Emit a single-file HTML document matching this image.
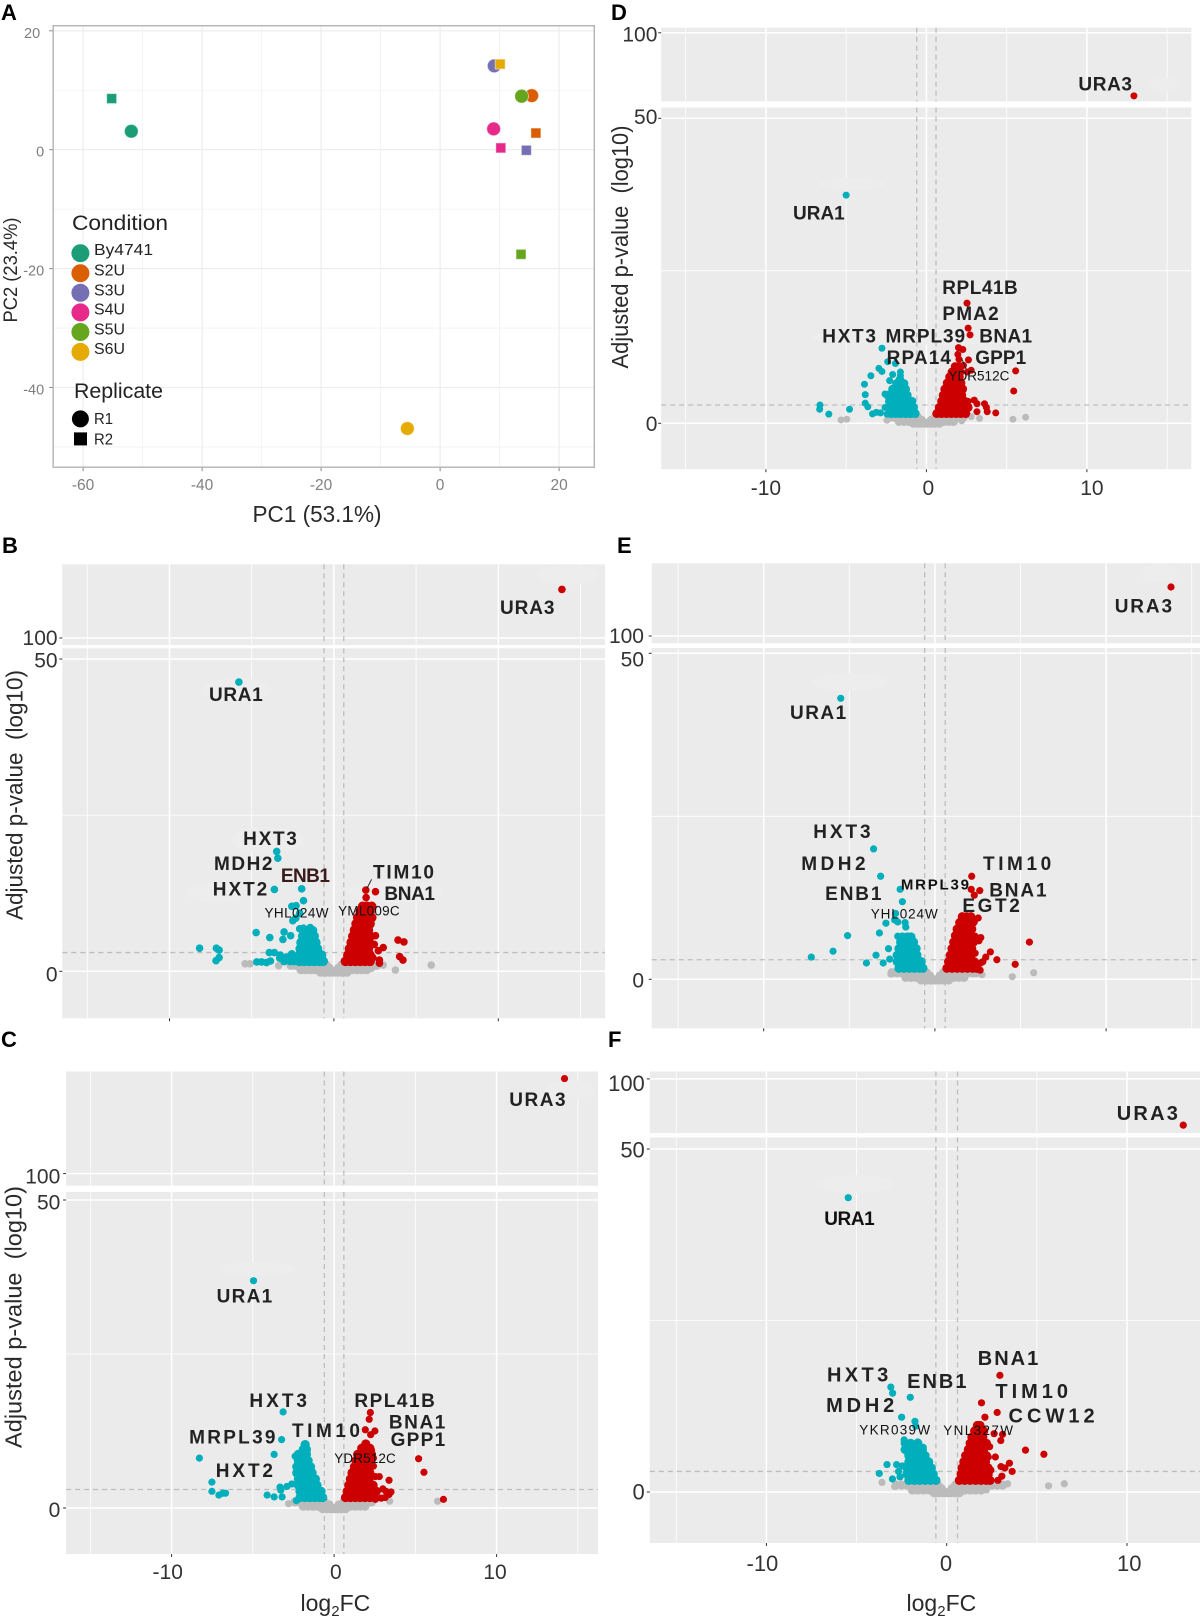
<!DOCTYPE html>
<html lang="en">
<head>
<meta charset="utf-8">
<title>PCA and volcano plots</title>
<style>
html,body{margin:0;padding:0;background:#fff}
svg{display:block;font-family:"Liberation Sans",sans-serif}
.panel-letter{font-size:22px;font-weight:700;fill:#000}
.g{font-size:19px;font-weight:700;fill:#222;text-anchor:middle}
.g2{font-size:20px}
.t{font-size:13.5px;fill:#111;text-anchor:middle}
.axis-title{font-size:23px;fill:#2a2a2a;text-anchor:middle;white-space:pre}
.pca-title{font-size:21px;fill:#222}
.pca-item{font-size:16px;fill:#222}
.sub{font-size:15px}
</style>
</head>
<body>
<svg id="figure" xmlns="http://www.w3.org/2000/svg" width="1200" height="1621" viewBox="0 0 1200 1621">
<rect width="1200" height="1621" fill="#fff"/>

<g id="panel-a"></g>
<g id="panel-b"></g>
<g id="panel-c"></g>
<g id="panel-d"></g>
<g id="panel-e"></g>
<g id="panel-f"></g>

<text class="panel-letter" x="1" y="20">A</text>
<text class="panel-letter" x="2" y="553">B</text>
<text class="panel-letter" x="1" y="1047">C</text>
<text class="panel-letter" x="611" y="20">D</text>
<text class="panel-letter" x="617" y="553">E</text>
<text class="panel-letter" x="608" y="1047">F</text>

<g>
  <text class="pca-title" x="72" y="230" textLength="96" lengthAdjust="spacingAndGlyphs">Condition</text>
  <circle cx="80.4" cy="253.2" r="9" fill="#1B9E77"/>
  <circle cx="80.4" cy="273.2" r="9" fill="#D95F02"/>
  <circle cx="80.4" cy="292.8" r="9" fill="#7570B3"/>
  <circle cx="80.4" cy="312.4" r="9" fill="#E7298A"/>
  <circle cx="80.4" cy="332" r="9" fill="#66A61E"/>
  <circle cx="80.4" cy="351.9" r="9" fill="#E6AB02"/>
  <text class="pca-item" x="94" y="255" textLength="59" lengthAdjust="spacingAndGlyphs">By4741</text>
  <text class="pca-item" x="94" y="275.5" textLength="31" lengthAdjust="spacingAndGlyphs">S2U</text>
  <text class="pca-item" x="94" y="295.5" textLength="31" lengthAdjust="spacingAndGlyphs">S3U</text>
  <text class="pca-item" x="94" y="314.5" textLength="31" lengthAdjust="spacingAndGlyphs">S4U</text>
  <text class="pca-item" x="94" y="334.5" textLength="31" lengthAdjust="spacingAndGlyphs">S5U</text>
  <text class="pca-item" x="94" y="354" textLength="31" lengthAdjust="spacingAndGlyphs">S6U</text>
  <text class="pca-title" x="74" y="398" textLength="89" lengthAdjust="spacingAndGlyphs">Replicate</text>
  <circle cx="80.4" cy="418.9" r="8.5" fill="#000"/>
  <rect x="74" y="432.4" width="13" height="13" fill="#000"/>
  <text class="pca-item" x="94" y="424" textLength="19" lengthAdjust="spacingAndGlyphs">R1</text>
  <text class="pca-item" x="94" y="444.5" textLength="19" lengthAdjust="spacingAndGlyphs">R2</text>
</g>
<text class="axis-title" x="317" y="522" textLength="129" lengthAdjust="spacingAndGlyphs">PC1 (53.1%)</text>
<text class="axis-title" style="font-size:19px" transform="rotate(-90 17 270)" x="17" y="270" textLength="105" lengthAdjust="spacingAndGlyphs">PC2 (23.4%)</text>

<text class="axis-title" transform="rotate(-90 22.5 795)" x="22.5" y="795" textLength="250" lengthAdjust="spacingAndGlyphs">Adjusted p-value  (log10)</text>
<text class="axis-title" transform="rotate(-90 21.5 1317)" x="21.5" y="1317" textLength="262" lengthAdjust="spacingAndGlyphs">Adjusted p-value  (log10)</text>
<text class="axis-title" transform="rotate(-90 628 247)" x="628" y="247" textLength="243" lengthAdjust="spacingAndGlyphs">Adjusted p-value  (log10)</text>

<text class="axis-title" x="335.4" y="1611">log<tspan class="sub" dy="5">2</tspan><tspan dy="-5">FC</tspan></text>
<text class="axis-title" x="941.4" y="1611">log<tspan class="sub" dy="5">2</tspan><tspan dy="-5">FC</tspan></text>

<g id="labels-top">
  <line x1="371.6" y1="879.3" x2="367" y2="888.3" stroke="#222" stroke-width="1"/>
  <line x1="961.7" y1="358.4" x2="966.2" y2="369.2" stroke="#222" stroke-width="1"/>

  <text class="g" x="527.2" y="613.8" textLength="54.5">URA3</text>
  <text class="g" x="235.8" y="701.2" textLength="53.7">URA1</text>
  <text class="g" x="270" y="845.2" textLength="53.7">HXT3</text>
  <text class="g" x="243.2" y="869.8" textLength="58.4">MDH2</text>
  <text class="g" x="305.4" y="881.8" textLength="49" style="fill:#3b1a1a">ENB1</text>
  <text class="g" x="403.5" y="878.5" textLength="61">TIM10</text>
  <text class="g" x="409.7" y="899.8" textLength="50.6">BNA1</text>
  <text class="g" x="240" y="895.5" textLength="54.5">HXT2</text>
  <text class="t" x="296.5" y="917.3" textLength="64">YHL024W</text>
  <text class="t" x="368.9" y="915.3" textLength="61.5">YML009C</text>

  <text class="g" x="537.4" y="1105.9" textLength="56.4">URA3</text>
  <text class="g" x="244.4" y="1302.6" textLength="55.6">URA1</text>
  <text class="g" x="278.2" y="1407" textLength="57.6">HXT3</text>
  <text class="g" x="394.6" y="1407" textLength="80.5">RPL41B</text>
  <text class="g" x="417.1" y="1428.5" textLength="56.4">BNA1</text>
  <text class="g" x="232.3" y="1443.6" textLength="86.4">MRPL39</text>
  <text class="g" x="326" y="1437.2" textLength="68">TIM10</text>
  <text class="g" x="417.9" y="1446.2" textLength="54.5">GPP1</text>
  <text class="t" x="365" y="1462.8" textLength="61.5">YDR512C</text>
  <text class="g" x="244.4" y="1477.1" textLength="57.2">HXT2</text>

  <text class="g" x="1105.2" y="90.3" textLength="53.6">URA3</text>
  <text class="g" x="818.9" y="219.5" textLength="51.7">URA1</text>
  <text class="g" x="980" y="294.2" textLength="75.4">RPL41B</text>
  <text class="g" x="970.5" y="320.2" textLength="56.3">PMA2</text>
  <text class="g" x="849.1" y="342.5" textLength="53.6">HXT3</text>
  <text class="g" x="925.3" y="342.5" textLength="79.6">MRPL39</text>
  <text class="g" x="1005.7" y="342.5" textLength="52.8">BNA1</text>
  <text class="g" x="918.8" y="363.8" textLength="64.3">RPA14</text>
  <text class="g" x="1000.7" y="363.8" textLength="50.9">GPP1</text>
  <text class="t" x="978.9" y="380.3" textLength="61">YDR512C</text>

  <text class="g" x="1143.4" y="612.5" textLength="57.4">URA3</text>
  <text class="g" x="818.1" y="719.2" textLength="56.3">URA1</text>
  <text class="g" x="841.9" y="838.2" textLength="57.4">HXT3</text>
  <text class="g" x="833.4" y="869.8" textLength="64.3">MDH2</text>
  <text class="g" x="1017.1" y="869.8" textLength="68.1">TIM10</text>
  <text class="t" style="font-size:15px;font-weight:700" x="934.9" y="889.5" textLength="68.1">MRPL39</text>
  <text class="g" x="1017.9" y="896.5" textLength="57.4">BNA1</text>
  <text class="g" x="853.3" y="899.8" textLength="56.3">ENB1</text>
  <text class="g" x="991.1" y="912.2" textLength="57.4">EGT2</text>
  <text class="t" x="904.2" y="918.3" textLength="67">YHL024W</text>

  <text class="g g2" x="1147.3" y="1120" textLength="61.2">URA3</text>
  <text class="g" x="849.5" y="1225.1" textLength="50.5" style="fill:#111">URA1</text>
  <text class="g g2" x="1008" y="1364.9" textLength="60.5">BNA1</text>
  <text class="g g2" x="857.6" y="1381.6" textLength="61.2">HXT3</text>
  <text class="g g2" x="936.8" y="1388.2" textLength="59.3">ENB1</text>
  <text class="g g2" x="1031.7" y="1398.2" textLength="72.7">TIM10</text>
  <text class="g g2" x="860.2" y="1412" textLength="68.1">MDH2</text>
  <text class="g g2" x="1051.6" y="1422.3" textLength="86.1">CCW12</text>
  <text class="t" x="894.7" y="1434.4" textLength="70.8">YKR039W</text>
  <text class="t" x="978.1" y="1434.8" textLength="69.7">YNL327W</text>
</g>
</svg>

<script>
/* ---------- PCA data ---------- */
const pcaConditions = ["By4741","S2U","S3U","S4U","S5U","S6U"];
const pcaPC1R1 = [-51.9,15.4,9.1,9.0,13.7,-5.5];
const pcaPC2R1 = [3.1,9.1,14.1,3.5,9.0,-46.9];
const pcaPC1R2 = [-55.2,16.1,14.5,10.2,13.6,10.1];
const pcaPC2R2 = [8.6,2.8,-0.1,0.3,-17.6,14.4];
const pcaXTicks = [-60,-40,-20,0,20];
const pcaYTicks = [20,0,-20,-40];
const pcaXMinor = [-50,-30,-10,10];
const pcaYMinor = [10,-10,-30,-50];

/* ---------- Volcano shared ticks ---------- */
const xMajorTicks = [-10,0,10];
const xMinorTicks = [-15,-5,5,15];
const yLowerTicks = [0,50];
const yLowerMinor = [25];
const yUpperTicks = [100];
const fcCutoffs = [-0.6,0.6];
const padjCutoff = 3;

/* ---------- Panel B: outliers are [log2FC,-log10 p]; clouds are rows [-log10 p, log2FC...] ---------- */
const bUra3 = [13.87,140.5];
const bBlueOutliers = [[-5.78,46.3],[-3.48,19.2],[-3.41,18.1],[-3.62,13.1],[-1.96,13.2],[-1.85,11.3],[-2.56,10.4],[-2.3,10.5],[-2.08,9.3],[-2.32,8.5],[-2.5,8.1],[-2.08,6.8],[-1.85,6.9],[-1.44,7.0],[-3.03,6.3],[-4.73,6.2],[-3.9,5.4],[-3.1,5.1],[-2.63,5.7],[-8.17,3.7],[-7.15,3.7],[-6.98,3.4],[-6.98,2.2],[-7.17,1.7],[-3.93,3.0],[-3.62,3.0],[-3.27,2.6],[-2.9,2.3],[-2.56,2.8],[-4.69,1.5],[-4.4,1.5],[-4.1,1.4],[-3.86,1.65],[-3.03,1.55],[-2.67,1.55],[-2.44,1.55],[-3.3,2.1],[-2.5,2.1]];
const bBlueCloud = [[1.6,-2.1,-1.8,-1.5,-1.2,-.9,-.65],[2.6,-2.1,-1.8,-1.5,-1.2,-.95,-.75],[3.6,-2.05,-1.75,-1.5,-1.25,-1.0],[4.6,-2.0,-1.75,-1.5,-1.3,-1.1],[5.6,-1.9,-1.65,-1.4,-1.2],[6.5,-1.75,-1.5,-1.3]];
const bRedOutliers = [[1.94,13.0],[2.53,12.75],[1.96,11.8],[2.53,5.7],[2.46,4.3],[3.0,3.8],[2.7,3.3],[3.9,5.0],[4.26,4.7],[4.0,2.35],[4.2,1.8],[2.77,1.8],[2.77,1.3],[2.37,2.2]];
const bRedCloud = [[1.6,.7,1.0,1.3,1.6,1.9,2.2],[2.6,.85,1.15,1.45,1.75,2.05,2.2],[3.6,.95,1.25,1.55,1.85,2.1],[4.6,1.05,1.35,1.65,1.95,2.15],[5.6,1.15,1.45,1.75,2.05,2.2],[6.6,1.25,1.55,1.85,2.1],[7.6,1.35,1.65,1.95,2.2],[8.6,1.45,1.75,2.05,2.3],[9.6,1.6,1.9,2.2],[10.4,1.75,2.0,2.3]];
const bGrayOutliers = [[-5.4,1.2],[-5.1,1.2],[-3.36,.9],[3.74,.2],[5.92,1.0],[3.0,1.0],[2.3,.5],[-1.85,.2]];
const bGrayCloud = [[-.1,-.8,-.5,-.25,0,.25,.5,.8],[.3,-2.0,-1.7,-1.4,-1.1,1.1,1.4,1.7,2.0],[.5,-.3,.3],[1,-2.6,-2.3,-2.0,-1.7,-1.4,-1.1,-.8,-.5,.5,.8,1.1,1.4,1.7,2.0,2.3,2.6]];

/* ---------- Panel C ---------- */
const cUra3 = [14.18,175];
const cBlueOutliers = [[-4.96,36.9],[-3.14,15.6],[-3.23,11.1],[-3.69,8.7],[-8.29,8.1],[-7.52,4.2],[-7.52,2.7],[-7.09,2.1],[-6.85,2.4],[-6.68,2.4],[-4.12,2.1],[-3.69,1.8],[-3.2,1.8],[-3.33,3.4],[-2.9,3.5],[-2.6,3.9],[-2.32,1.2],[-3.28,2.9],[-2.4,8.4],[-2.3,6.5]];
const cBlueCloud = [[1.7,-2.1,-1.8,-1.5,-1.2,-.9,-.7],[2.7,-2.1,-1.8,-1.5,-1.2,-.95,-.8],[3.7,-2.2,-1.9,-1.6,-1.3,-1.05],[4.7,-2.2,-1.9,-1.6,-1.3,-1.15],[5.7,-2.3,-1.95,-1.65,-1.35],[6.7,-2.3,-2.0,-1.7,-1.45],[7.7,-2.2,-1.9,-1.6],[8.7,-2.2,-1.9,-1.7],[9.5,-1.9,-1.7],[10.3,-1.78]];
const cRedOutliers = [[2.23,15.5],[2.16,14.4],[1.92,12.7],[2.51,12.5],[2.25,11.9],[5.2,8.0],[5.53,5.8],[6.73,1.4],[2.42,6.8],[2.54,5.1],[3.38,4.5],[2.78,5.1],[3.0,3.1],[3.5,2.6],[3.14,1.7],[3.38,2.2],[2.42,8.1],[2.3,9.4],[2.54,1.4],[2.9,1.6],[3.2,2.7]];
const cRedCloud = [[1.7,.7,1.0,1.3,1.6,1.9,2.2,2.5],[2.7,.8,1.1,1.4,1.7,2.0,2.3,2.6],[3.7,.9,1.2,1.5,1.8,2.1,2.4],[4.7,1.0,1.3,1.6,1.9,2.15],[5.7,1.1,1.4,1.7,2.0,2.2],[6.7,1.25,1.55,1.85,2.15],[7.7,1.35,1.65,1.95,2.2],[8.7,1.45,1.75,2.05,2.3],[9.7,1.7,1.95,2.2],[10.4,1.95]];
const cGrayOutliers = [[6.37,1.1],[3.42,1.1],[-2.8,.7]];
const cGrayCloud = [[-.1,-.7,-.45,-.2,0,.2,.45,.7],[.3,-1.9,-1.6,-1.3,-1.0,1.0,1.3,1.6,1.9],[.5,-.3,.3],[1,-2.4,-2.1,-1.8,-1.5,-1.2,-.9,-.6,.6,.9,1.2,1.5,1.8,2.1,2.3]];

/* ---------- Panel D ---------- */
const dUra3 = [12.93,62];
const dBlueOutliers = [[-5.0,37.4],[-2.77,12.3],[-2.41,10.1],[-2.96,9.0],[-2.77,8.5],[-3.46,7.8],[-1.93,9.8],[-2.1,8.0],[-1.62,8.4],[-1.62,7.8],[-3.86,6.4],[-2.29,7.0],[-3.81,4.7],[-2.58,4.8],[-3.81,3.3],[-3.65,2.7],[-6.63,3.0],[-6.65,2.3],[-6.08,1.5],[-4.79,2.3],[-3.36,1.55],[-3.12,1.8],[-2.86,1.7],[-2.58,2.6],[-2.45,1.5],[-2.33,3.2],[-2.21,3.7]];
const dBlueCloud = [[1.6,-2.2,-1.9,-1.6,-1.3,-1.0,-.7],[2.6,-2.3,-2.0,-1.7,-1.4,-1.1,-.8],[3.6,-2.3,-2.0,-1.7,-1.4,-1.1,-.9],[4.6,-2.4,-2.1,-1.8,-1.5,-1.2],[5.6,-2.1,-1.8,-1.5,-1.3],[6.5,-1.85,-1.6,-1.4],[7.1,-1.65]];
const dRedOutliers = [[2.53,19.7],[2.6,15.6],[2.72,14.5],[2.0,12.4],[2.27,12.1],[1.96,11.3],[2.03,10.5],[2.62,10.4],[2.79,8.7],[5.56,8.6],[5.44,5.3],[2.31,9.5],[2.55,8.4],[2.98,3.8],[2.6,3.6],[3.15,3.2],[3.62,3.2],[3.74,2.6],[3.79,1.9],[4.32,1.7],[3.15,1.9],[2.55,2.3],[2.31,5.7]];
const dRedCloud = [[1.6,.65,.95,1.25,1.55,1.85,2.15,2.45],[2.6,.8,1.1,1.4,1.7,2.0,2.3,2.6],[3.6,.95,1.25,1.55,1.85,2.15,2.4],[4.6,1.05,1.35,1.65,1.95,2.2],[5.6,1.15,1.45,1.75,2.05,2.25],[6.6,1.3,1.6,1.9,2.15],[7.6,1.45,1.75,2.05],[8.4,1.6,1.85,2.1],[9.3,1.8,2.05]];
const dGrayOutliers = [[-5.32,.55],[-4.96,.67],[-2.46,.5],[3.31,.8],[2.79,1.1],[5.39,.67],[6.18,1.0],[2.2,.4]];
const dGrayCloud = [[0,-.8,-.5,-.25,0,.25,.5,.8],[.3,-1.7,-1.4,-1.1,1.1,1.4,1.7],[.5,-.3,.3],[1,-2.3,-2.0,-1.7,-1.4,-1.1,-.8,-.55,.55,.8,1.1,1.4,1.7,2.0,2.3]];

/* ---------- Panel E ---------- */
const eUra3 = [13.79,140];
const eBlueOutliers = [[-5.5,43.1],[-3.58,20.0],[-3.17,15.8],[-2.03,13.8],[-1.9,11.9],[-2.3,10.1],[-2.35,9.1],[-2.86,8.6],[-2.17,8.8],[-1.74,8.7],[-1.7,8.0],[-5.1,6.7],[-3.24,7.1],[-5.95,4.3],[-7.22,3.4],[-2.71,4.7],[-3.44,3.7],[-4.0,2.5],[-3.02,2.5],[-2.64,3.1],[-2.17,6.6],[-1.45,6.5]];
const eBlueCloud = [[1.7,-2.1,-1.8,-1.5,-1.2,-.9,-.7],[2.7,-2.2,-1.9,-1.6,-1.3,-1.0,-.8],[3.7,-2.2,-1.9,-1.6,-1.3,-1.05],[4.7,-2.1,-1.8,-1.5,-1.25,-1.1],[5.7,-2.0,-1.7,-1.45,-1.25],[6.5,-1.9,-1.6,-1.4]];
const eRedOutliers = [[2.15,15.8],[2.12,13.8],[2.62,13.6],[2.3,12.9],[5.52,5.7],[4.69,2.3],[3.62,3.0],[3.24,4.2],[2.97,3.4],[2.8,2.7],[2.53,9.4],[2.3,8.8],[2.68,6.4],[2.57,5.9],[2.35,4.0],[2.64,1.4],[2.68,2.5],[2.35,6.6]];
const eRedCloud = [[1.7,.7,1.0,1.3,1.6,1.9,2.2,2.45],[2.7,.8,1.1,1.4,1.7,2.0,2.3],[3.7,.9,1.2,1.5,1.8,2.1],[4.7,1.0,1.3,1.6,1.9,2.15],[5.7,1.1,1.4,1.7,2.0,2.25],[6.7,1.2,1.5,1.8,2.1],[7.7,1.3,1.6,1.9,2.15],[8.7,1.45,1.7,2.0,2.2],[9.6,1.6,1.85,2.1]];
const eGrayOutliers = [[4.52,.4],[5.77,1.0],[2.75,.7],[-2.57,.8]];
const eGrayCloud = [[-.1,-.8,-.5,-.25,0,.25,.5,.8],[.3,-1.7,-1.4,-1.1,1.1,1.4,1.7],[.5,-.3,.3],[1,-2.5,-2.2,-1.9,-1.6,-1.3,-1.0,-.7,-.5,.5,.7,1.0,1.3,1.6,1.9,2.2,2.4]];

/* ---------- Panel F ---------- */
const fUra3 = [13.12,63];
const fBlueOutliers = [[-5.46,42.9],[-3.1,15.3],[-3.0,14.4],[-2.02,13.8],[-2.5,10.9],[-1.76,10.3],[-1.72,9.6],[-3.31,4.0],[-3.74,2.7],[-3.01,1.9],[-2.59,2.2],[-2.78,4.0],[-2.46,3.8],[-2.67,3.0],[-2.36,7.6],[-2.36,6.2],[-1.6,7.3],[-1.3,6.5]];
const fBlueCloud = [[1.7,-2.1,-1.8,-1.5,-1.2,-.9,-.6],[2.6,-2.2,-1.9,-1.6,-1.3,-1.0,-.75],[3.5,-2.2,-1.9,-1.6,-1.3,-1.05,-.85],[4.4,-2.1,-1.8,-1.5,-1.25,-1.0],[5.3,-2.1,-1.8,-1.5,-1.2],[6.2,-2.3,-2.0,-1.7,-1.35],[7.1,-2.3,-2.0,-1.6]];
const fRedOutliers = [[2.95,17.0],[1.93,13.0],[2.8,11.6],[2.12,10.9],[1.78,9.7],[2.63,8.5],[3.1,8.4],[3.0,7.5],[4.37,6.1],[5.39,5.5],[2.38,6.6],[2.7,5.1],[3.48,4.2],[3.01,3.7],[3.23,3.5],[3.63,3.0],[3.06,2.3],[2.84,1.7],[2.45,3.2],[2.31,5.1]];
const fRedCloud = [[1.7,.7,1.0,1.3,1.6,1.9,2.2,2.4],[2.6,.8,1.1,1.4,1.7,2.0,2.3],[3.5,.85,1.15,1.45,1.75,2.05,2.3],[4.4,.95,1.25,1.55,1.85,2.15],[5.3,1.05,1.35,1.65,1.95,2.2],[6.2,1.2,1.5,1.8,2.05],[7.1,1.3,1.6,1.9,2.2],[8,1.4,1.7,2.0],[8.9,1.55,1.8,2.05],[9.7,1.7,1.85]];
const fGrayOutliers = [[-3.59,1.4],[5.65,.9],[6.52,1.2],[3.38,1.2],[2.2,.3],[-2.89,.8]];
const fGrayCloud = [[-.1,-.7,-.45,-.2,0,.2,.45,.7],[.3,-1.9,-1.6,-1.3,-1.0,1.0,1.3,1.6,1.9],[.5,-.3,.3],[1,-2.8,-2.5,-2.2,-1.9,-1.6,-1.3,-1.0,-.7,-.5,.5,.7,1.0,1.3,1.6,1.9,2.2,2.5,2.8,3.1]];

/* ---------- Helpers ---------- */
const SVGNS = "http://www.w3.org/2000/svg";
function make(tag, attrs, parent) {
  const el = document.createElementNS(SVGNS, tag);
  for (const k in attrs) el.setAttribute(k, attrs[k]);
  parent.appendChild(el);
  return el;
}
function unroll(rows) {
  const out = [];
  rows.forEach(function (row) {
    row.slice(1).forEach(function (x) { out.push([x, row[0]]); });
  });
  return out;
}

/* ---------- PCA ---------- */
function drawPca() {
  const root = document.getElementById("panel-a");
  const L = 53.2, R = 594.3, T = 25.7, B = 467.2;
  const px = function (v) { return 440.1 + v * 5.95; };
  const py = function (v) { return 149.7 - v * 5.945; };
  const colors = ["#1B9E77","#D95F02","#7570B3","#E7298A","#66A61E","#E6AB02"];

  const bg = make("rect", {x:L,y:T,width:R-L,height:B-T,fill:"#fff"}, root);
  
  

  pcaXMinor.forEach(function (v) {
    const ln = make("line", {x1:px(v),x2:px(v),y1:T,y2:B,stroke:"#f2f2f2","stroke-width":0.8}, root);
    
    
  });
  pcaYMinor.forEach(function (v) {
    const ln = make("line", {x1:L,x2:R,y1:py(v),y2:py(v),stroke:"#f2f2f2","stroke-width":0.8}, root);
    
    
  });
  pcaXTicks.forEach(function (v) {
    const ln = make("line", {x1:px(v),x2:px(v),y1:T,y2:B,stroke:"#ececec","stroke-width":1.1}, root);
    
    
    const tk = make("line", {x1:px(v),x2:px(v),y1:B,y2:B+4,stroke:"#888","stroke-width":1}, root);
    
    
    const tx = make("text", {x:px(v),y:490,"text-anchor":"middle","font-size":15.5,fill:"#7f7f7f"}, root);
    
    
    tx.textContent = String(v);
  });
  pcaYTicks.forEach(function (v) {
    const ln = make("line", {x1:L,x2:R,y1:py(v),y2:py(v),stroke:"#ececec","stroke-width":1.1}, root);
    
    
    const tk = make("line", {x1:L-4,x2:L,y1:py(v),y2:py(v),stroke:"#888","stroke-width":1}, root);
    
    
    const tx = make("text", {x:v === 20 ? L-13 : L-9,y:py(v)+7,"text-anchor":"end","font-size":14.5,fill:"#7f7f7f"}, root);
    
    
    tx.textContent = String(v);
  });
  const frame = make("rect", {x:L,y:T,width:R-L,height:B-T,fill:"none",stroke:"#b3b3b3","stroke-width":1.4}, root);
  
  

  pcaConditions.forEach(function (name, i) {
    const c = make("circle", {cx:px(pcaPC1R1[i]),cy:py(pcaPC2R1[i]),r:6.9,fill:colors[i],stroke:"#fff","stroke-opacity":0.5,"stroke-width":1}, root);
    
    
  });
  pcaConditions.forEach(function (name, i) {
    const s = make("rect", {x:px(pcaPC1R2[i])-5,y:py(pcaPC2R2[i])-5,width:10,height:10,fill:colors[i],stroke:"#fff","stroke-opacity":0.5,"stroke-width":1}, root);
    
    
  });
}

/* ---------- Volcano ---------- */
function drawVolcano(id, g, d) {
  const root = document.getElementById(id);
  const fx = function (v) { return g.x0 + v * g.xs; };
  const fyL = function (v) { return g.y0 - v * g.ys; };
  const fyU = function (v) { return g.u0 - (v - 100) * g.us; };
  const BLUE = "#00AFBB", RED = "#CC0000", GRAY = "#BBBBBB", TXT = "#333";

  const up = make("rect", {x:g.left,y:g.upTop,width:g.right-g.left,height:g.upBot-g.upTop,fill:"#EBEBEB"}, root);
  
  
  const lo = make("rect", {x:g.left,y:g.lowTop,width:g.right-g.left,height:g.lowBot-g.lowTop,fill:"#EBEBEB"}, root);
  
  

  function vLine(x, color, w, dash, nm) {
    [[g.upTop,g.upBot],[g.lowTop,g.lowBot]].forEach(function (span) {
      const ln = make("line", {x1:x,x2:x,y1:span[0],y2:span[1],stroke:color,"stroke-width":w}, root);
      if (dash) ln.setAttribute("stroke-dasharray", dash);
      
      
    });
  }
  xMinorTicks.forEach(function (v) {
    const xp = fx(v);
    if (xp < g.right) vLine(xp, "#fff", 0.8, null, 'x-minor-gridline');
  });
  xMajorTicks.forEach(function (v) { vLine(fx(v), "#fff", 1.5, null, 'x-major-gridline'); });
  yLowerMinor.forEach(function (v) {
    const ln = make("line", {x1:g.left,x2:g.right,y1:fyL(v),y2:fyL(v),stroke:"#fff","stroke-width":0.8}, root);
    
    
  });
  yLowerTicks.forEach(function (v) {
    const ln = make("line", {x1:g.left,x2:g.right,y1:fyL(v),y2:fyL(v),stroke:"#fff","stroke-width":1.5}, root);
    
    
    const tk = make("line", {x1:g.left-3,x2:g.left,y1:fyL(v),y2:fyL(v),stroke:TXT,"stroke-width":1}, root);
    
    
    const off = v === 0 ? g.off0 : g.off50;
    const tx = make("text", {x:g.left-g.labGap,y:fyL(v)+off+7.5,"text-anchor":"end","font-size":g.tickFont,fill:TXT}, root);
    
    
    tx.textContent = String(v);
  });
  yUpperTicks.forEach(function (v) {
    const ln = make("line", {x1:g.left,x2:g.right,y1:fyU(v),y2:fyU(v),stroke:"#fff","stroke-width":1.5}, root);
    
    
    const tk = make("line", {x1:g.left-3,x2:g.left,y1:fyU(v),y2:fyU(v),stroke:TXT,"stroke-width":1}, root);
    
    
    const tx = make("text", {x:g.left-g.labGap,y:fyU(v)+g.off100+7.5,"text-anchor":"end","font-size":g.tickFont,fill:TXT}, root);
    
    
    tx.textContent = String(v);
  });
  xMajorTicks.forEach(function (v, i) {
    const tk = make("line", {x1:fx(v),x2:fx(v),y1:g.lowBot,y2:g.lowBot+3,stroke:TXT,"stroke-width":1}, root);
    
    
    if (g.xLabelY) {
      const tx = make("text", {x:fx(v)+g.xLabelDx[i],y:g.xLabelY,"text-anchor":"middle","font-size":g.tickFont,fill:TXT}, root);
      
      
      tx.textContent = String(v);
    }
  });

  g.halos.forEach(function (h) {
    const e = make("ellipse", {cx:h[0],cy:h[1],rx:h[2],ry:h[3],fill:"#ededed"}, root);
    
    
  });

  fcCutoffs.forEach(function (v) { vLine(fx(v), "#bdbdbd", 1.3, "5 4", 'fold-change-cutoff-line'); });
  const hl = make("line", {x1:g.left,x2:g.right,y1:fyL(padjCutoff),y2:fyL(padjCutoff),stroke:"#bdbdbd","stroke-width":1.3,"stroke-dasharray":"5 4"}, root);
  
  

  function dots(list, color, radius, nm) {
    list.forEach(function (p) {
      const c = make("circle", {cx:fx(p[0]),cy:fyL(p[1]),r:radius,fill:color}, root);
      
      
    });
  }
  /* Cloud rows stand in for many overplotted genes, so they are drawn slightly larger to read as a solid mass. */
  const cloudR = g.r + 1;
  dots(unroll(d.grayCloud), GRAY, cloudR, 'not-significant-gene-point');
  dots(d.grayOut, GRAY, g.r, 'not-significant-gene-point');
  dots(unroll(d.blueCloud), BLUE, cloudR, 'downregulated-gene-point');
  dots(d.blueOut, BLUE, g.r, 'downregulated-gene-point');
  dots(unroll(d.redCloud), RED, cloudR, 'upregulated-gene-point');
  dots(d.redOut, RED, g.r, 'upregulated-gene-point');

  const u = make("circle", {cx:fx(d.ura3[0]),cy:fyU(d.ura3[1]),r:g.r,fill:RED}, root);
  
  
}

drawPca();
drawVolcano("panel-b",
  {left:62.3,right:605,upTop:564.3,upBot:645,lowTop:648.3,lowBot:1018.3,x0:333.9,xs:16.44,y0:971.3,ys:6.246,u0:638,us:1.2,r:3.8,tickFont:21,xLabelY:null,labGap:4.7,off0:2.7,off50:1,off100:-.3,halos:[[568,575,31,10],[237,690,35,12],[268,840,37,13],[218,893,32,10],[395,892,48,11]]},
  {ura3:bUra3,blueOut:bBlueOutliers,blueCloud:bBlueCloud,redOut:bRedOutliers,redCloud:bRedCloud,grayOut:bGrayOutliers,grayCloud:bGrayCloud});
drawVolcano("panel-c",
  {left:66.1,right:598,upTop:1071.5,upBot:1185.7,lowTop:1192,lowBot:1554,x0:334.1,xs:16.25,y0:1508,ys:6.16,u0:1173.6,us:1.267,r:3.6,tickFont:21,xLabelY:1579,xLabelDx:[-3.9,1.7,-1.6],labGap:5.8,off0:1.5,off50:2,off100:2.6,halos:[[257,1269,38,7],[570,1090,25,10]]},
  {ura3:cUra3,blueOut:cBlueOutliers,blueCloud:cBlueCloud,redOut:cRedOutliers,redCloud:cRedCloud,grayOut:cGrayOutliers,grayCloud:cGrayCloud});
drawVolcano("panel-d",
  {left:661.2,right:1191.3,upTop:27.7,upBot:101.4,lowTop:107.5,lowBot:469.2,x0:926.4,xs:16.05,y0:423.3,ys:6.1,u0:32.8,us:1.66,r:3.5,tickFont:21,xLabelY:495,xLabelDx:[0,2,5],labGap:3.8,off0:0,off50:-1.7,off100:1,halos:[[852,184,34,6],[1164,85,17,7],[925,337,115,8]]},
  {ura3:dUra3,blueOut:dBlueOutliers,blueCloud:dBlueCloud,redOut:dRedOutliers,redCloud:dRedCloud,grayOut:dGrayOutliers,grayCloud:dGrayCloud});
drawVolcano("panel-e",
  {left:651.7,right:1200,upTop:563.3,upBot:643.3,lowTop:648,lowBot:1028.3,x0:934.9,xs:17.12,y0:979.3,ys:6.52,u0:636,us:1.225,r:3.6,tickFont:21,xLabelY:null,labGap:7.7,off0:.7,off50:5.7,off100:-.7,halos:[[850,682,38,9],[1160,573,21,9]]},
  {ura3:eUra3,blueOut:eBlueOutliers,blueCloud:eBlueCloud,redOut:eRedOutliers,redCloud:eRedCloud,grayOut:eGrayOutliers,grayCloud:eGrayCloud});
drawVolcano("panel-f",
  {left:649.8,right:1200,upTop:1071.5,upBot:1133,lowTop:1137.4,lowBot:1543,x0:946.7,xs:18.03,y0:1492,ys:6.86,u0:1078.9,us:1.25,r:3.6,tickFont:22,xLabelY:1571,xLabelDx:[-4,-.7,2.3],labGap:5,off0:0,off50:1,off100:4.8,halos:[[855,1184,40,9]]},
  {ura3:fUra3,blueOut:fBlueOutliers,blueCloud:fBlueCloud,redOut:fRedOutliers,redCloud:fRedCloud,grayOut:fGrayOutliers,grayCloud:fGrayCloud});
</script>
</body>
</html>
